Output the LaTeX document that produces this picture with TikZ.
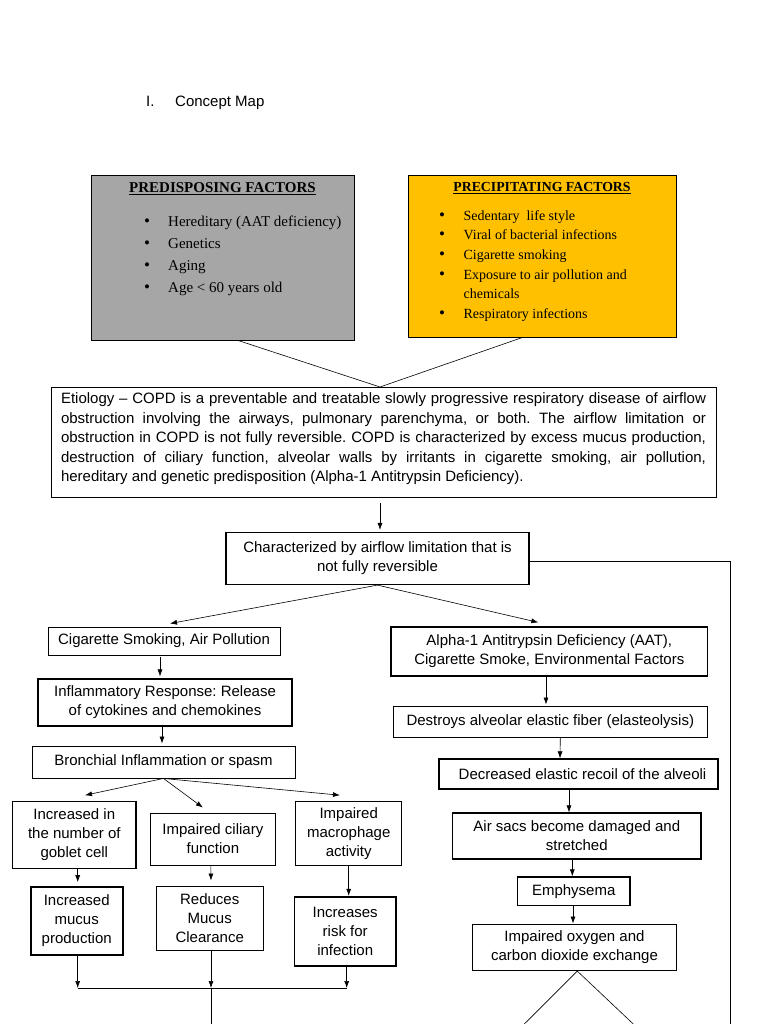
\documentclass[tikz,border=0pt]{standalone}
\usepackage{fontspec}
\setmainfont{Liberation Serif}
\newfontfamily\arialfont{Liberation Sans}
\usetikzlibrary{arrows.meta}
\definecolor{predgray}{HTML}{A6A6A6}
\definecolor{precgold}{HTML}{FFC000}
\newcommand\bigbul{{\fontsize{17}{17}\selectfont\textbullet}}
\frenchspacing

\begin{document}
\begin{tikzpicture}[x=1pt,y=-1pt,
  box/.style={draw,line width=0.9pt,inner sep=0pt,align=center,
    font=\arialfont\fontsize{15}{19}\selectfont},
  heavy/.style={line width=1.7pt},
  link/.style={line width=0.6pt},
  arr/.style={link,-{Latex[length=7pt,width=5pt]}}]

\useasboundingbox (0,0) rectangle (768,1024);

% Heading
\node[anchor=base west,inner sep=0pt,font=\arialfont\fontsize{15}{18}\selectfont] (num) at (146,107) {I.};
\node[anchor=base west,inner sep=0pt,font=\arialfont\fontsize{15}{18}\selectfont] (head) at (175,107) {Concept Map};

% Factors
\node[draw,line width=0.9pt,fill=predgray,minimum width=263pt,minimum height=165pt] (pre) at (222.5,257.5) {};
\node[font=\bfseries\fontsize{15}{18}\selectfont] (pretitle) at (222.5,189) {\underline{PREDISPOSING FACTORS}};
\node[anchor=north west,inner sep=0pt,font=\fontsize{15}{22}\selectfont] (prelist) at (144,210.6) {%
  \begin{tabular}{@{}p{24pt}@{}l@{}}
  \bigbul & Hereditary (AAT deficiency)\\
  \bigbul & Genetics\\
  \bigbul & Aging\\
  \bigbul & Age < 60 years old
  \end{tabular}};

\node[draw,line width=0.9pt,fill=precgold,minimum width=268pt,minimum height=162pt] (prec) at (542.5,256) {};
\node[font=\bfseries\fontsize{13.8}{17}\selectfont] (prectitle) at (542,188) {\underline{PRECIPITATING FACTORS}};
\node[anchor=north west,inner sep=0pt,font=\fontsize{14}{19.6}\selectfont] (preclist) at (439,206.3) {%
  \begin{tabular}{@{}p{24.4pt}@{}l@{}}
  \bigbul & Sedentary~ life style\\
  \bigbul & Viral of bacterial infections\\
  \bigbul & Cigarette smoking\\
  \bigbul & Exposure to air pollution and\\
          & chemicals\\
  \bigbul & Respiratory infections
  \end{tabular}};

% Etiology
\node[box,align=justify,text width=645pt,inner xsep=10pt,inner ysep=6pt,text depth=88pt,
  font=\arialfont\fontsize{15}{19.5}\selectfont] (etio) at (383.5,442.5)
  {Etiology – COPD is a preventable and treatable slowly progressive respiratory disease of airflow\linebreak
   obstruction involving the airways, pulmonary parenchyma, or both. The airflow limitation or\linebreak
   obstruction in COPD is not fully reversible. COPD is characterized by excess mucus production,\linebreak
   destruction of ciliary function, alveolar walls by irritants in cigarette smoking, air pollution,\linebreak
   hereditary and genetic predisposition (Alpha-1 Antitrypsin Deficiency).};

\node[box,line width=1.2pt,minimum width=303pt,minimum height=52pt] (char) at (377.5,558.5)
  {Characterized by airflow limitation that is\\not fully reversible};

% Left branch
\node[box,minimum width=232pt,minimum height=28pt] (cig) at (164,641) {Cigarette Smoking, Air Pollution};
\node[box,line width=1.2pt,minimum width=254pt,minimum height=47pt] (infl) at (165,702.5)
  {Inflammatory Response: Release\\of cytokines and chemokines};
\node[box,minimum width=263pt,minimum height=32pt] (bron) at (163.5,762) {Bronchial Inflammation or spasm};

\node[box,line width=1.2pt,minimum width=123.3pt,minimum height=66.3pt] (gob) at (74.3,835) {Increased in\\the number of\\goblet cell};
\node[box,minimum width=124.3pt,minimum height=52pt] (cil) at (212.9,839) {Impaired ciliary\\function};
\node[box,minimum width=106pt,minimum height=63.3pt] (mac) at (348.7,833.3) {Impaired\\macrophage\\activity};

\node[box,heavy,minimum width=92pt,minimum height=68pt] (mucus) at (76.7,921) {Increased\\mucus\\production};
\node[box,minimum width=107.3pt,minimum height=64pt] (red) at (209.7,918) {Reduces\\Mucus\\Clearance};
\node[box,heavy,minimum width=101.7pt,minimum height=69.3pt] (inf) at (345.2,931.3) {Increases\\risk for\\infection};

% Right branch
\node[box,line width=1.2pt,minimum width=316.7pt,minimum height=49pt] (alpha) at (549.3,651.5)
  {Alpha-1 Antitrypsin Deficiency (AAT),\\Cigarette Smoke, Environmental Factors};
\node[box,minimum width=314.7pt,minimum height=31.7pt] (destr) at (550.3,721.8)
  {Destroys alveolar elastic fiber (elasteolysis)};
\node[box,line width=1.2pt,minimum width=279pt,minimum height=30pt] (decr) at (578.5,774)
  {\hspace*{8pt}Decreased elastic recoil of the alveoli};
\node[box,line width=1.2pt,minimum width=248.3pt,minimum height=46pt] (air) at (576.8,836)
  {Air sacs become damaged and\\stretched};
\node[box,line width=1.2pt,minimum width=112.7pt,minimum height=28.7pt] (emph) at (573.7,891.3) {Emphysema};
\node[box,minimum width=204.4pt,minimum height=46.7pt] (imp) at (574.5,947.3)
  {Impaired oxygen and\\carbon dioxide exchange};

% Connectors
\coordinate (apex) at (380,387);
\draw[link] ([xshift=15.5pt]pre.south) -- (apex) -- ([xshift=-20pt]prec.south);
\draw[arr,shorten <=5pt,shorten >=2pt] (etio.south -| apex) -- (char.north -| apex);

\draw[arr] (char.south) -- ([xshift=6pt,yshift=3pt]cig.north);
\draw[arr] (char.south) -- ([xshift=-11pt,yshift=4pt]alpha.north);

\draw[arr,shorten <=2pt,shorten >=2pt] ([xshift=-4pt]cig.south) -- ([xshift=-5pt]infl.north);
\draw[arr,shorten >=2pt] ([xshift=-3pt]infl.south) -- ([xshift=-1.5pt]bron.north);
\draw[arr] (bron.south) -- ([xshift=10.7pt,yshift=6pt]gob.north);
\draw[arr] (bron.south) -- ([xshift=-10pt,yshift=5pt]cil.north);
\draw[arr] (bron.south) -- ([xshift=-8.7pt,yshift=6pt]mac.north);

\draw[arr,shorten >=4pt] ([xshift=3.4pt]gob.south) -- ([xshift=1pt]mucus.north);
\draw[arr,shorten >=5pt] ([xshift=-2pt]cil.south) -- ([xshift=1.3pt]red.north);
\draw[arr] (mac.south) -- (mac.south |- inf.north);

\coordinate (joinL) at (77.7,988);
\coordinate (joinR) at (346.7,988);
\coordinate (tail) at (211,1024);
\draw[arr] (mucus.south -| joinL) -- (joinL);
\draw[arr] (red.south -| tail) -- (tail |- joinL);
\draw[arr] (inf.south -| joinR) -- (joinR);
\draw[link] (joinL) -- (joinR);
\draw[link] (tail |- joinL) -- (tail);

\draw[arr,shorten >=1pt] ([xshift=-3.3pt]alpha.south) -- ([xshift=-4.3pt]destr.north);
\draw[arr] ([xshift=10pt]destr.south) -- ([xshift=-18.5pt]decr.north);
\draw[arr] ([xshift=-9.5pt]decr.south) -- ([xshift=-7.8pt]air.north);
\draw[arr] ([xshift=-4.5pt]air.south) -- ([xshift=-1.4pt]emph.north);
\draw[arr] ([xshift=-0.7pt]emph.south) -- ([xshift=-1.5pt]imp.north);

\coordinate (forkL) at (524.3,1024);
\coordinate (forkR) at (633.3,1024);
\draw[link] (forkL) -- ([xshift=2.8pt]imp.south) -- (forkR);

\coordinate (rail) at (730,1024);
\draw[link,line width=0.8pt] ([yshift=-2.5pt]char.east) -| (rail);

\end{tikzpicture}
\end{document}
